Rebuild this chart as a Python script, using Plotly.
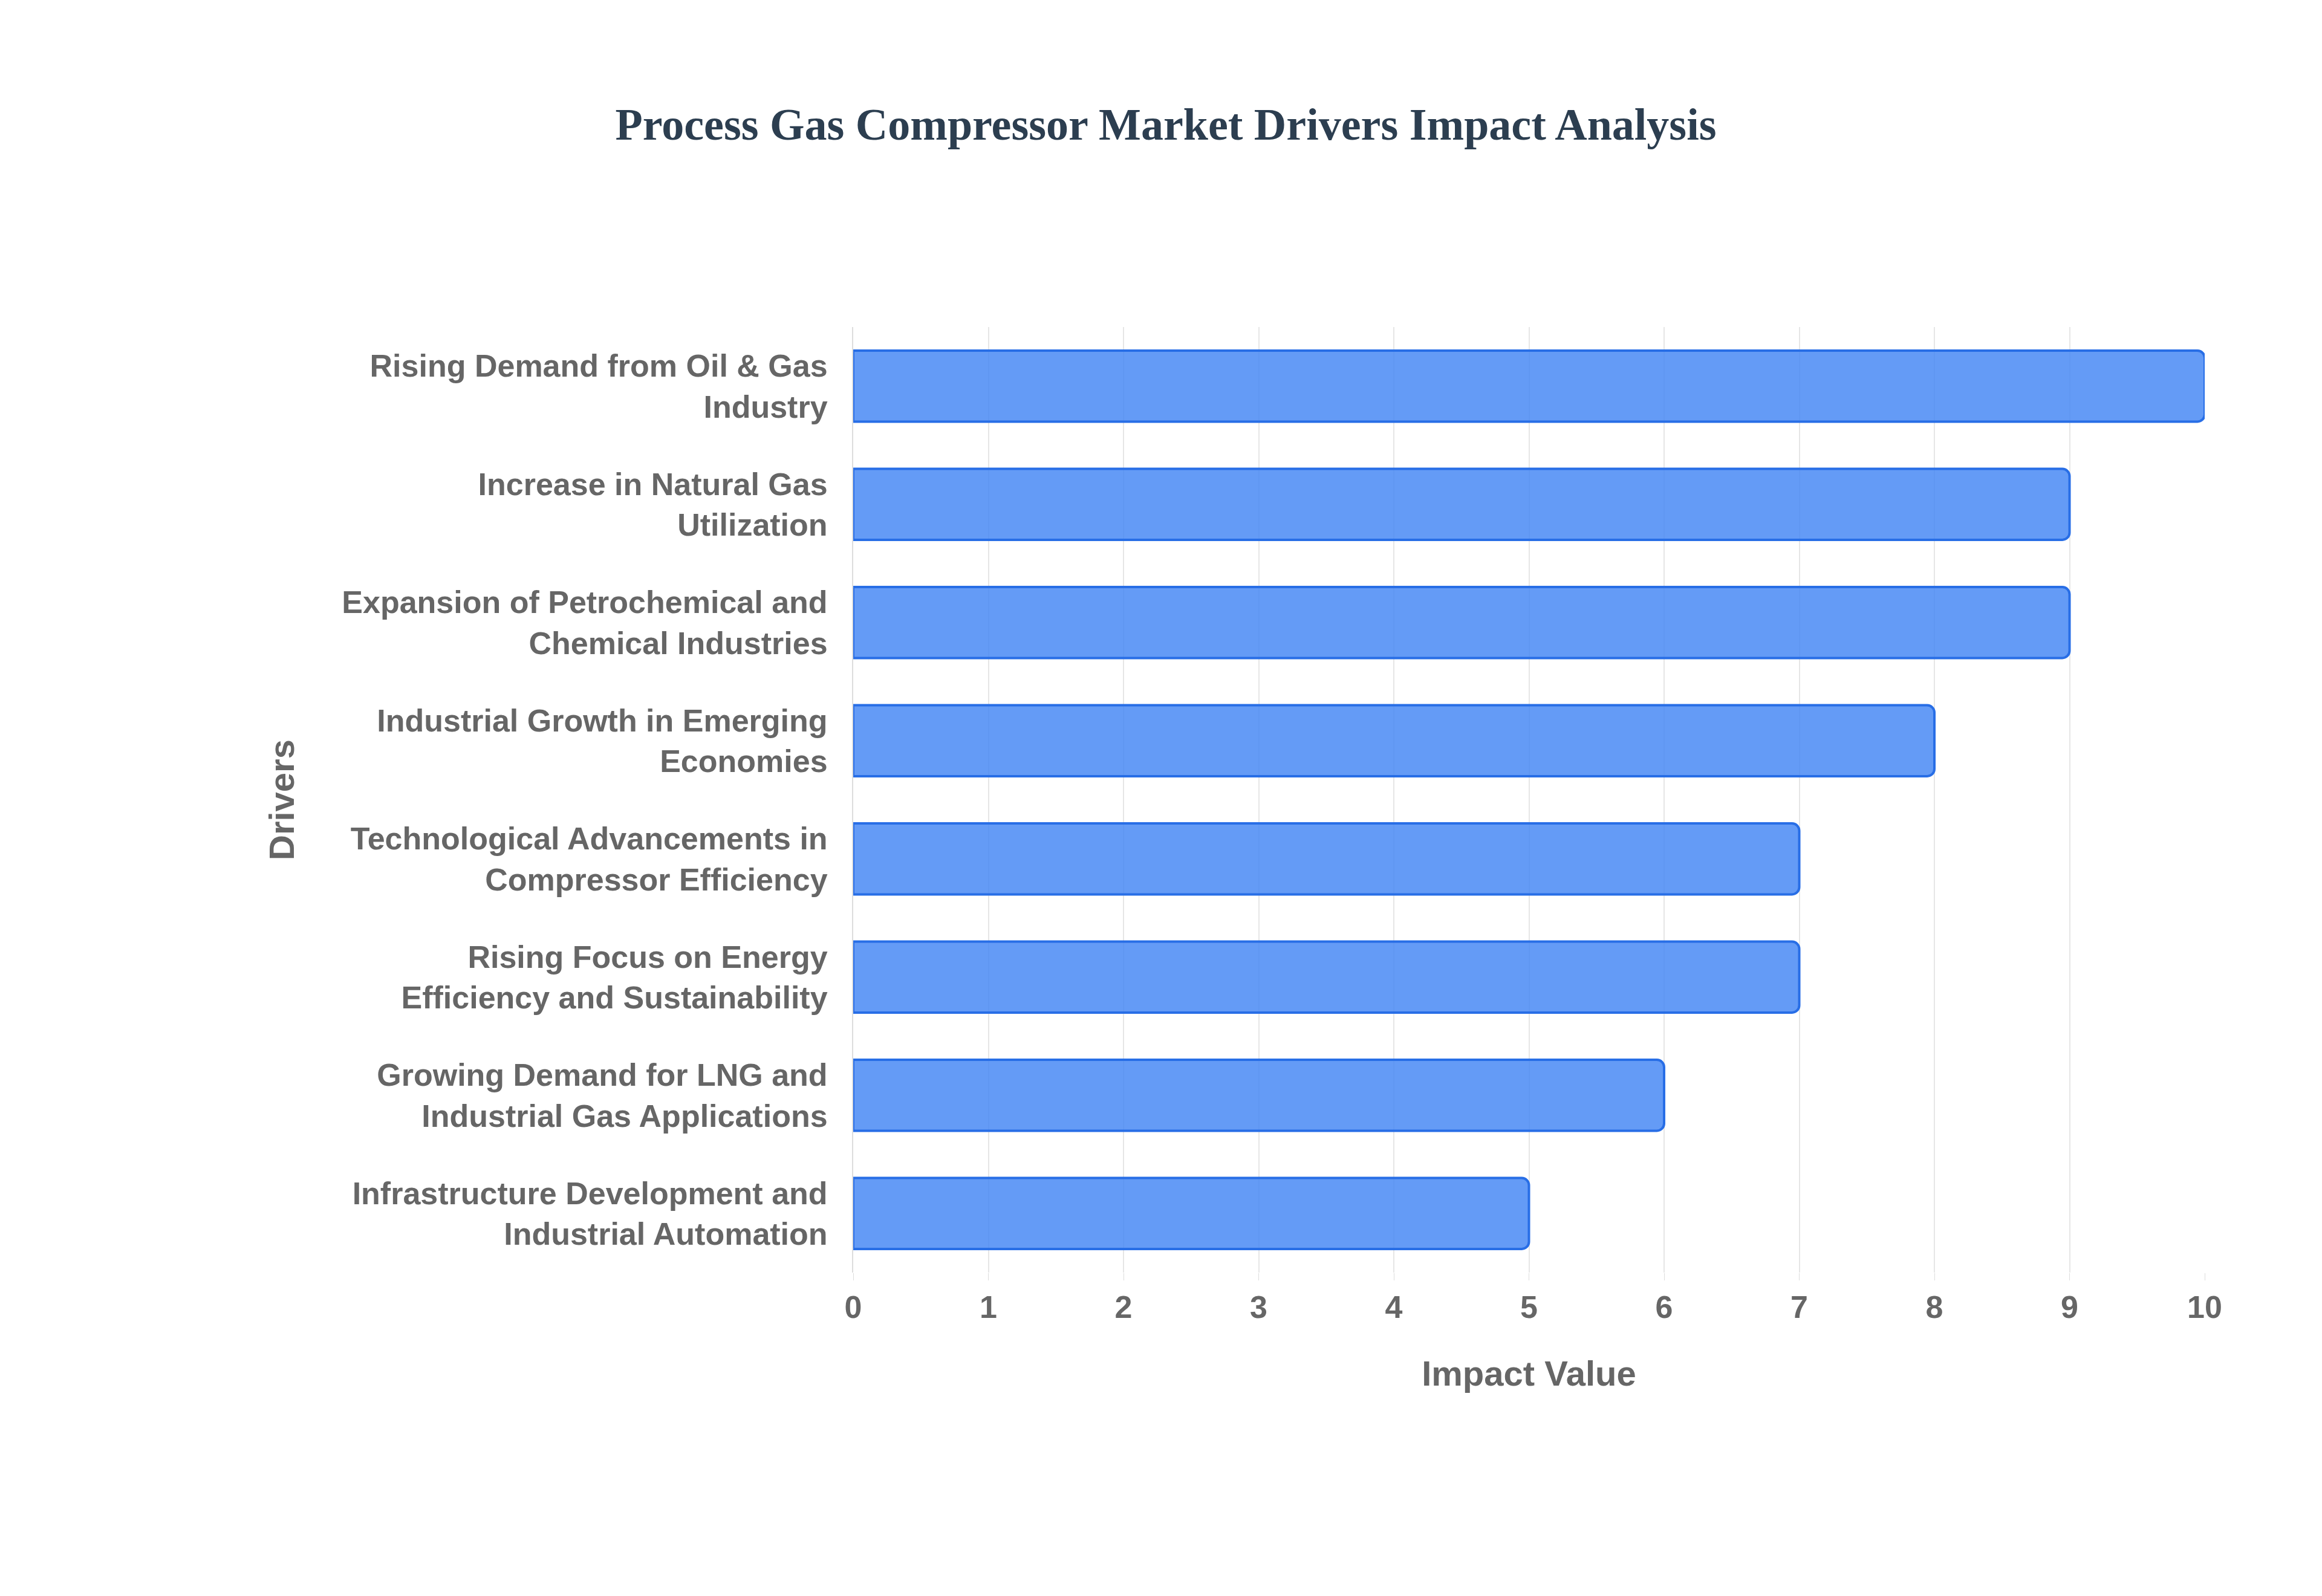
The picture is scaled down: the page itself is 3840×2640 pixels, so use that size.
import plotly.graph_objects as go

drivers = [
    "Rising Demand from Oil & Gas<br>Industry",
    "Increase in Natural Gas<br>Utilization",
    "Expansion of Petrochemical and<br>Chemical Industries",
    "Industrial Growth in Emerging<br>Economies",
    "Technological Advancements in<br>Compressor Efficiency",
    "Rising Focus on Energy<br>Efficiency and Sustainability",
    "Growing Demand for LNG and<br>Industrial Gas Applications",
    "Infrastructure Development and<br>Industrial Automation",
]
impact = [10, 9, 9, 8, 7, 7, 6, 5]

fig = go.Figure()
fig.add_trace(go.Bar(
    x=impact, y=drivers, orientation="h",
    width=0.6,
    marker=dict(color="rgba(66,133,244,0.82)", cornerradius=12,
                line=dict(color="rgba(40,110,230,1)", width=4)),
))
fig.update_layout(
    width=3840, height=2640,
    paper_bgcolor="white", plot_bgcolor="white",
    margin=dict(l=1403, r=202, t=533, b=543),
    title=dict(text="<b>Process Gas Compressor Market Drivers Impact Analysis</b>",
               x=0.5, y=0.935, xanchor="center",
               font=dict(family="Liberation Serif", size=74, color="#2c3e50")),
    font=dict(family="Liberation Sans", color="#666666"),
    showlegend=False,
)
fig.update_xaxes(
    range=[0, 10], dtick=1, showgrid=True, gridcolor="#e6e6e6", gridwidth=2,
    zeroline=False, showline=False,
    ticks="outside", ticklen=12, tickcolor="#dddddd",
    tickfont=dict(size=52, color="#666666", family="Liberation Sans"),
    tickprefix="<b>", ticksuffix="</b>",
    title=dict(text="<b>Impact Value</b>", standoff=60,
               font=dict(size=58, color="#666666")),
)
fig.update_yaxes(
    autorange="reversed", showline=True, linecolor="#dddddd", linewidth=2,
    ticks="", ticklabelstandoff=30,
    tickfont=dict(size=52, color="#666666", family="Liberation Sans"),
    tickprefix="<b>", ticksuffix="</b>",
    title=dict(text="<b>Drivers</b>", standoff=60,
               font=dict(size=58, color="#666666")),
)
fig.write_html("out.html")
